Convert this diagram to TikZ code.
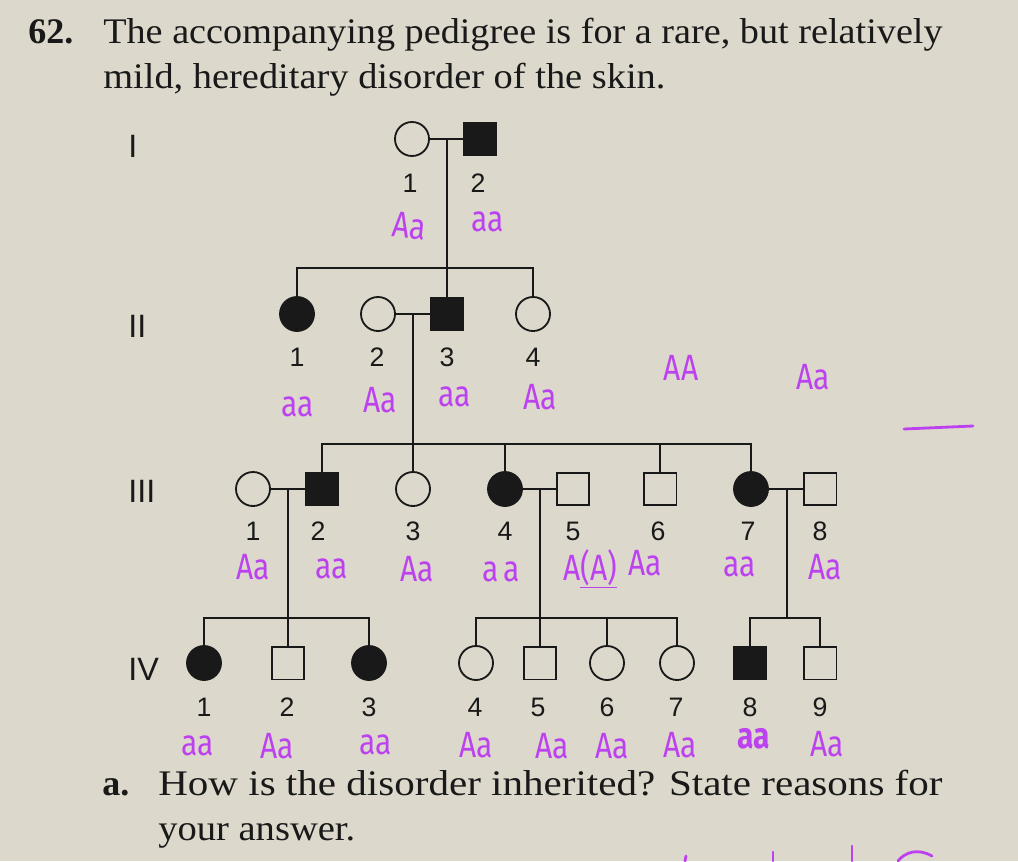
\documentclass[tikz,border=0pt]{standalone}
\usepackage{fontspec}
\usepackage{graphicx}
\setmainfont{Liberation Serif}
\newfontfamily\numfont{Liberation Sans}
\newfontfamily\handfont{Fira Sans}
\definecolor{Paper}{HTML}{DCD9CC}
\definecolor{Ink}{HTML}{1A1919}
\definecolor{Pen}{HTML}{BC42F0}
\newcommand{\fitline}[2]{\resizebox{#1}{\height}{#2}}
\newcommand{\hw}[1]{\scalebox{0.82}[1]{#1}}

\begin{document}
\begin{tikzpicture}[x=0.025cm, y=-0.025cm,
  person/.style={draw=Ink, line width=1.3pt, fill=Paper, inner sep=0pt},
  female/.style={person, circle, minimum size=0.85cm},
  male/.style={person, rectangle, minimum size=0.82cm},
  sick/.style={fill=Ink},
  link/.style={draw=Ink, line width=1.3pt},
  pen/.style={draw=Pen, line width=2pt, line cap=round},
  num/.style={font=\numfont\fontsize{19}{21}\selectfont, text=Ink, inner sep=0pt},
  gen/.style={font=\numfont\fontsize{23}{26}\selectfont, text=Ink, inner sep=0pt, anchor=base west},
  geno/.style={font=\handfont\fontsize{26}{28}\selectfont, text=Pen, inner sep=0pt},
  txt/.style={font=\fontsize{25.6}{30}\selectfont, text=Ink, inner sep=0pt, anchor=base west}
]
\fill[Paper] (0,0) rectangle (1018,861);
\useasboundingbox (0,0) rectangle (1018,861);

% question
\node[txt] (qnum) at (28,43) {\bfseries 62.};
\node[txt] (q1) at (103,43) {\fitline{20.975cm}{The accompanying pedigree is for a rare, but relatively}};
\node[txt] (q2) at (103,88) {\fitline{14.05cm}{mild, hereditary disorder of the skin.}};

% generations
\node[gen] (genI) at (128,157) {I};
\node[gen] (genII) at (128,337) {II};
\node[gen] (genIII) at (128,502) {III};
\node[gen] (genIV) at (128,680) {IV};

% I
\node[female] (i1) at (412,139) {};
\node[male, sick] (i2) at (480,139) {};
% II
\node[female, sick] (ii1) at (297,314) {};
\node[female] (ii2) at (378,314) {};
\node[male, sick] (ii3) at (447,314) {};
\node[female] (ii4) at (533,314) {};
% III
\node[female] (iii1) at (253,489) {};
\node[male, sick] (iii2) at (322,489) {};
\node[female] (iii3) at (413,489) {};
\node[female, sick] (iii4) at (505,489) {};
\node[male] (iii5) at (573,489) {};
\node[male] (iii6) at (660,489) {};
\node[female, sick] (iii7) at (751,489) {};
\node[male] (iii8) at (820,489) {};
% IV
\node[female, sick] (iv1) at (204,663) {};
\node[male] (iv2) at (288,663) {};
\node[female, sick] (iv3) at (369,663) {};
\node[female] (iv4) at (476,663) {};
\node[male] (iv5) at (540,663) {};
\node[female] (iv6) at (607,663) {};
\node[female] (iv7) at (677,663) {};
\node[male, sick] (iv8) at (750,663) {};
\node[male] (iv9) at (820,663) {};

% matings and sibships
\coordinate (m1) at (447,139);
\coordinate (s2) at (447,268);
\coordinate (m2) at (413,314);
\coordinate (s3) at (413,444);
\coordinate (m3a) at (288,489);
\coordinate (m3b) at (540,489);
\coordinate (m3c) at (787,489);
\coordinate (s4a) at (288,618);
\coordinate (s4b) at (540,618);
\coordinate (s4c) at (787,618);

\draw[link] (i1) -- (i2);
\draw[link] (m1) -- (ii3.north);
\draw[link] (ii1.north) |- (s2) -| (ii4.north);
\draw[link] (ii2) -- (ii3);
\draw[link] (m2) -- (iii3.north);
\draw[link] (iii2.north) |- (s3) -| (iii7.north);
\draw[link] (iii4.north) -- (iii4.north |- s3);
\draw[link] (iii6.north) -- (iii6.north |- s3);
\draw[link] (iii1) -- (iii2);
\draw[link] (iii4) -- (iii5);
\draw[link] (iii7) -- (iii8);
\draw[link] (m3a) -- (iv2.north);
\draw[link] (iv1.north) |- (s4a) -| (iv3.north);
\draw[link] (m3b) -- (iv5.north);
\draw[link] (iv4.north) |- (s4b) -| (iv7.north);
\draw[link] (iv6.north) -- (iv6.north |- s4b);
\draw[link] (m3c) -- (s4c);
\draw[link] (iv8.north) |- (s4c) -| (iv9.north);

% numbers
\foreach \x/\n in {410/1, 478/2}
  \node[num] (nI\n) at (\x,183) {\n};
\foreach \x/\n in {297/1, 377/2, 447/3, 533/4}
  \node[num] (nII\n) at (\x,357) {\n};
\foreach \x/\n in {253/1, 318/2, 413/3, 505/4, 573/5, 658/6, 748/7, 820/8}
  \node[num] (nIII\n) at (\x,531) {\n};
\foreach \x/\n in {204/1, 287/2, 369/3, 475/4, 538/5, 607/6, 676/7, 750/8, 820/9}
  \node[num] (nIV\n) at (\x,707) {\n};

% genotypes (handwritten)
\node[geno, rotate=-6] (gI1) at (409,226) {\hw{Aa}};
\node[geno] (gI2) at (488,222) {\hw{aa}};
\node[geno] (gII1) at (298,407) {\hw{aa}};
\node[geno] (gII2) at (380,400) {\hw{Aa}};
\node[geno] (gII3) at (455,397) {\hw{aa}};
\node[geno] (gII4) at (540,397) {\hw{Aa}};
\node[geno] (gX1) at (681,368) {\hw{AA}};
\node[geno] (gX2) at (813,377) {\hw{Aa}};
\node[geno] (gIII1) at (253,567) {\hw{Aa}};
\node[geno] (gIII2) at (332,569) {\hw{aa}};
\node[geno] (gIII3) at (417,569) {\hw{Aa}};
\node[geno] (gIII4) at (501,572) {\hw{a\,a}};
\node[geno] (gIII5) at (590,569) {\hw{A\underline{(A)}}};
\node[geno] (gIII6) at (645,563) {\hw{Aa}};
\node[geno] (gIII7) at (740,567) {\hw{aa}};
\node[geno] (gIII8) at (825,567) {\hw{Aa}};
\node[geno] (gIV1) at (198,746) {\hw{aa}};
\node[geno] (gIV2) at (277,746) {\hw{Aa}};
\node[geno] (gIV3) at (376,745) {\hw{aa}};
\node[geno] (gIV4) at (476,745) {\hw{Aa}};
\node[geno] (gIV5) at (552,746) {\hw{Aa}};
\node[geno] (gIV6) at (612,746) {\hw{Aa}};
\node[geno] (gIV7) at (680,745) {\hw{Aa}};
\node[geno] (gIV8) at (754,739) {\hw{\bfseries aa}};
\node[geno] (gIV9) at (827,744) {\hw{Aa}};
\draw[pen] (904,429) -- (973,426);
\draw[pen] (686,856) -- (685,861);
\draw[pen] (773,852) -- (773,861);
\draw[pen] (852,846) -- (852,861);
\draw[pen] (898,861) .. controls (905,852) and (918,848) .. (932,856);

% part a
\node[txt] (anum) at (102,795) {\bfseries a.};
\node[txt] (a1) at (158,795) {\fitline{19.6cm}{How is the disorder inherited? State reasons for}};
\node[txt] (a2) at (158,840) {\fitline{4.925cm}{your answer.}};
\end{tikzpicture}
\end{document}
